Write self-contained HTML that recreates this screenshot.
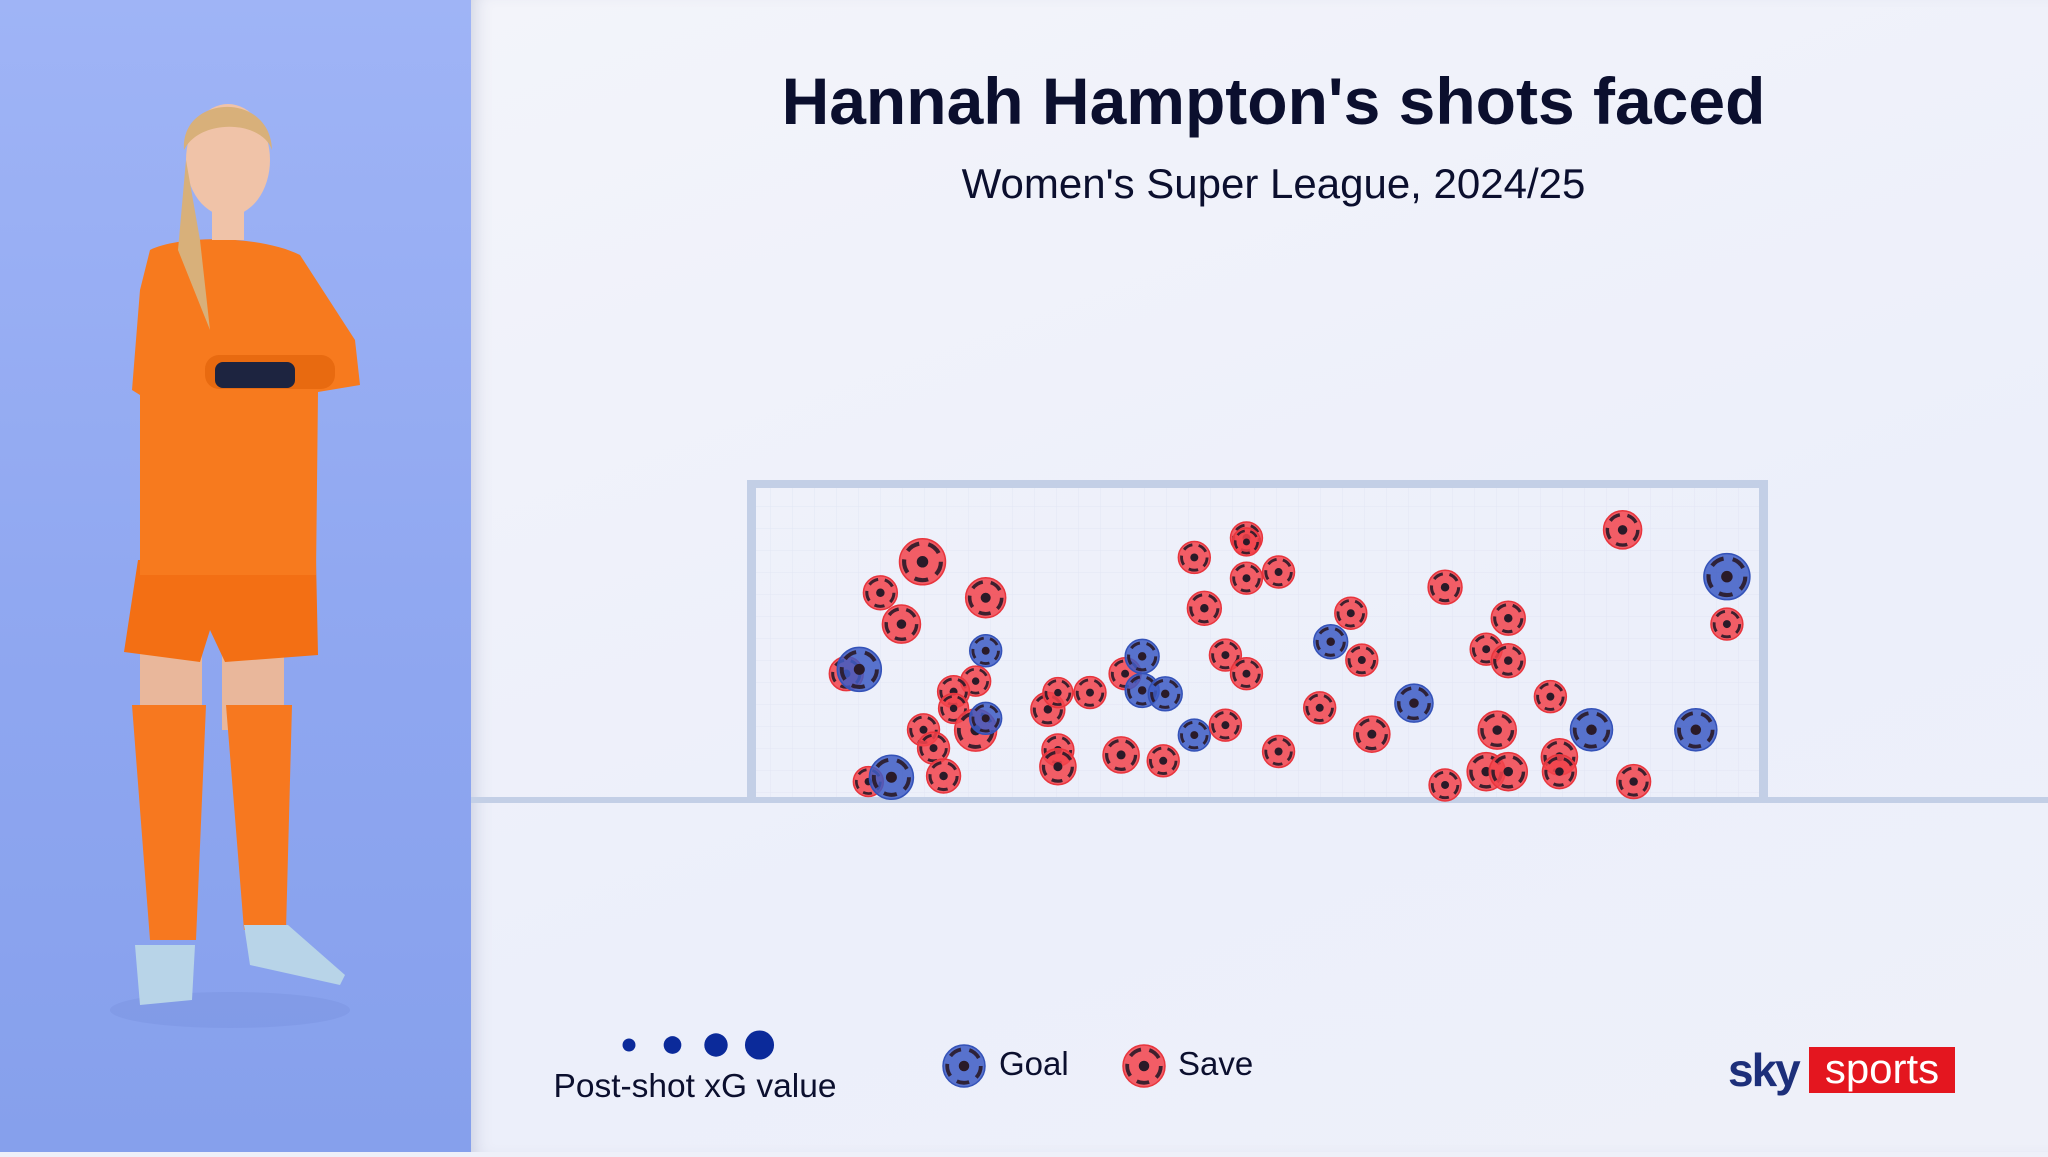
<!DOCTYPE html>
<html><head><meta charset="utf-8">
<style>
html,body{margin:0;padding:0;}
body{width:2048px;height:1152px;overflow:hidden;position:relative;background:#eef0f9;font-family:"Liberation Sans",sans-serif;}
#left{position:absolute;left:0;top:0;width:471px;height:1152px;background:linear-gradient(180deg,#9fb4f6 0%,#8ea6f0 60%,#86a0ec 100%);}
#main{position:absolute;left:471px;top:0;width:1577px;height:1152px;background:linear-gradient(160deg,#f3f4fa 0%,#eceffa 60%,#eef0f9 100%);box-shadow:inset 14px 0 18px -12px rgba(80,90,140,.25);}
.title{position:absolute;left:499px;width:1549px;text-align:center;color:#0b0f2e;}
</style></head><body>
<div id="left">
<svg width="471" height="1152">
 <ellipse cx="230" cy="1010" rx="120" ry="18" fill="#7d96e2" opacity=".6"/>
 <rect x="140" y="640" width="62" height="90" fill="#e9b79b"/>
 <rect x="222" y="640" width="62" height="90" fill="#e9b79b"/>
 <path d="M132 705 L206 705 L196 940 L150 940 Z" fill="#f7781f"/>
 <path d="M226 705 L292 705 L286 930 L244 930 Z" fill="#f7781f"/>
 <path d="M135 945 L195 945 L192 1000 L140 1005 Z" fill="#b8d4e8"/>
 <path d="M244 925 L288 925 L345 975 L340 985 L250 965 Z" fill="#b8d4e8"/>
 <path d="M138 560 L316 560 L318 655 L225 662 L210 630 L200 662 L124 652 Z" fill="#f36f14"/>
 <path d="M150 250 C180 235 260 235 300 255 L355 340 L360 385 L318 392 L316 575 L140 575 L140 395 L132 390 L140 290 Z" fill="#f77a1e"/>
 <rect x="205" y="355" width="130" height="34" rx="14" fill="#e86a10"/>
 <rect x="215" y="362" width="80" height="26" rx="8" fill="#1d2440"/>
 <ellipse cx="228" cy="160" rx="42" ry="56" fill="#f0c3a8"/>
 <path d="M184 150 C180 95 270 90 272 150 C262 120 200 118 184 150Z" fill="#d8b07a"/>
 <path d="M186 160 L178 250 L210 330 L200 240 Z" fill="#d8b07a"/>
 <rect x="212" y="200" width="32" height="40" fill="#f0c3a8"/>
</svg>
</div>
<div id="main"></div>
<div class="title" style="top:63px;font-size:66px;font-weight:bold;">Hannah Hampton's shots faced</div>
<div class="title" style="top:160px;font-size:42px;">Women's Super League, 2024/25</div>

<svg id="chart" width="2048" height="1152" style="position:absolute;left:0;top:0">
 <defs>
  <pattern id="net" width="22" height="22" patternUnits="userSpaceOnUse">
   <path d="M22 0 L0 0 0 22" fill="none" stroke="#dfe3f2" stroke-width="1"/>
  </pattern>
 </defs>
 <rect x="756" y="488" width="1003" height="310" fill="url(#net)" opacity=".8"/>
 <rect x="471" y="797" width="1577" height="6" fill="#c3cfe6"/>
 <rect x="747" y="480" width="1021" height="8" fill="#c3cfe6"/>
 <rect x="747" y="480" width="9" height="318" fill="#c3cfe6"/>
 <rect x="1759" y="480" width="9" height="318" fill="#c3cfe6"/>
 <g id="shots"></g>
 <g id="legend"></g>
</svg>

<div style="position:absolute;left:530px;top:1068px;width:330px;text-align:center;font-size:33.5px;color:#0b0f2e;">Post-shot xG value</div>
<div style="position:absolute;left:999px;top:1045px;font-size:33px;color:#0b0f2e;">Goal</div>
<div style="position:absolute;left:1178px;top:1045px;font-size:33px;color:#0b0f2e;">Save</div>
<div style="position:absolute;left:1728px;top:1044px;height:52px;">
 <span style="position:absolute;left:0;top:0;font-size:46px;font-weight:bold;color:#1d2f7a;letter-spacing:-2px;line-height:52px;">sky</span>
 <span style="position:absolute;left:81px;top:3px;width:146px;height:46px;background:#e4161f;color:#fff;font-size:42px;line-height:44px;text-align:center;">sports</span>
</div>

<script>
// shot positions: % of goal width from left post, % of goal height from ground
const shotX = [16.6,12.4,14.5,22.9,9.0,10.3,22.9,21.9,19.7,19.7,21.9,22.9,16.7,17.7,11.2,13.5,18.7,29.1,30.1,33.3,30.1,30.1,36.4,40.6,43.7,46.8,36.8,38.5,38.5,40.8,43.7,48.9,48.9,48.9,52.1,44.7,46.8,48.9,52.1,59.3,57.3,60.4,56.2,61.4,65.6,68.7,75.0,72.8,75.0,79.2,73.9,72.8,75.0,80.1,80.1,68.7,83.3,87.5,93.7,86.4,96.8,96.8];
const shotY = [76.2,66.2,56.1,64.6,40.1,41.5,47.5,37.7,34.3,28.9,21.9,25.7,22.0,16.1,5.3,6.7,7.1,28.6,34.0,34.0,15.5,10.1,13.9,12.0,20.3,23.5,40.1,45.7,34.7,33.6,77.6,83.9,82.6,70.9,72.9,61.2,46.1,40.1,15.0,59.6,50.4,44.5,29.1,20.6,30.6,68.0,58.0,48.0,44.3,32.7,21.9,8.5,8.5,13.3,8.5,4.2,22.0,5.3,22.0,86.5,71.4,56.1];
const shotXG = [1.0,0.45,0.64,0.73,0.45,0.91,0.36,0.27,0.36,0.27,0.82,0.36,0.36,0.36,0.27,0.91,0.45,0.45,0.27,0.36,0.36,0.55,0.55,0.36,0.36,0.36,0.36,0.45,0.45,0.45,0.36,0.36,0.18,0.36,0.36,0.45,0.36,0.36,0.36,0.36,0.45,0.36,0.36,0.55,0.64,0.45,0.45,0.36,0.45,0.36,0.64,0.64,0.64,0.55,0.45,0.36,0.82,0.45,0.82,0.64,1.0,0.36];
const shotOutcome = ["S","S","S","S","S","G","G","S","S","S","S","G","S","S","S","G","S","S","S","S","S","S","S","S","G","S","S","G","G","G","S","S","S","S","S","S","S","S","S","S","G","S","S","S","G","S","S","S","S","S","S","S","S","S","S","S","G","S","G","S","G","S"];
const legendXG = [0.05,0.3,0.6,0.9];

const NS='http://www.w3.org/2000/svg';
const gx = v => 756 + v/100*1003;
const gy = v => 798 - v/100*310;
const rScale = v => 12 + v*11;
const COL = {G:'#3d5cc4', S:'#f2434b'};

function ball(parent, cx, cy, r, type){
  const g=document.createElementNS(NS,'g');
  
  
  const c=document.createElementNS(NS,'circle');
  c.setAttribute('cx',cx);c.setAttribute('cy',cy);c.setAttribute('r',r);
  c.setAttribute('fill',COL[type]);c.setAttribute('fill-opacity','0.85');
  c.setAttribute('stroke',type==='G'?'#3452b8':'#e8353d');c.setAttribute('stroke-width','1.5');
  g.appendChild(c);
  const ring=document.createElementNS(NS,'circle');
  ring.setAttribute('cx',cx);ring.setAttribute('cy',cy);ring.setAttribute('r',r*0.8);
  ring.setAttribute('fill','none');ring.setAttribute('stroke','#2a1a28');
  ring.setAttribute('stroke-width',r*0.18);
  const circ=2*Math.PI*r*0.8;
  ring.setAttribute('stroke-dasharray',(circ/5*0.6)+' '+(circ/5*0.4));
  ring.setAttribute('opacity','0.9');
  g.appendChild(ring);
  const d=document.createElementNS(NS,'circle');
  d.setAttribute('cx',cx);d.setAttribute('cy',cy);d.setAttribute('r',r*0.25);
  d.setAttribute('fill','#2a1a28');
  g.appendChild(d);
  parent.appendChild(g);
}
const shots=document.getElementById('shots');
for(let i=0;i<shotX.length;i++){
  ball(shots, gx(shotX[i]), gy(shotY[i]), rScale(shotXG[i]), shotOutcome[i]);
}
const leg=document.getElementById('legend');
legendXG.forEach((v,i)=>{
  const c=document.createElementNS(NS,'circle');
  
  
  c.setAttribute('cx',629+i*43.5);c.setAttribute('cy',1045);
  c.setAttribute('r',6+v*9.5);c.setAttribute('fill','#0b2a9a');
  leg.appendChild(c);
});
ball(leg, 964, 1066, 21, 'G');
ball(leg, 1144, 1066, 21, 'S');
</script>
</body></html>
